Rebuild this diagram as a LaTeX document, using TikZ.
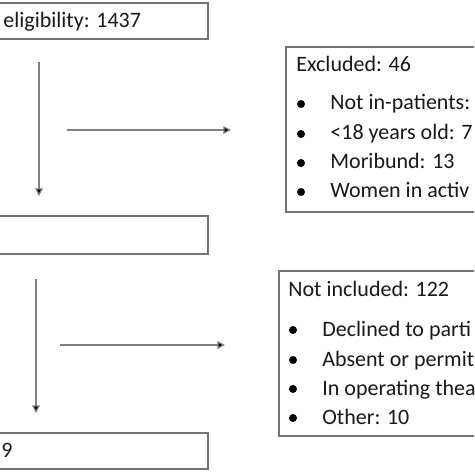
\documentclass[tikz,border=0pt]{standalone}
\usepackage{fontspec}
\setmainfont{Carlito}
\usetikzlibrary{arrows.meta}
\begin{document}
\begin{tikzpicture}[x=0.5pt,y=-0.5pt,
  boxline/.style={draw=black!55, line width=1pt},
  txt/.style={anchor=base west, inner sep=0pt, font=\fontsize{11}{13}\selectfont, text=black!90},
  dotb/.style={circle, fill=black, inner sep=0pt, minimum size=4pt},
  flow/.style={draw=black!50, line width=0.6pt, -{Triangle[length=3.8pt,width=3.8pt,fill=black]}}]
\useasboundingbox (0,0) rectangle (474,474);
\clip (0,0) rectangle (474,474);
\fill[white] (0,0) rectangle (474,474);
% left boxes
\draw[boxline] (-10,3) rectangle (208,39);
\node[txt] (t1) at (3,28) {eligibility: 1437};
\draw[boxline] (-10,216) rectangle (208,254);
\draw[boxline] (-10,433) rectangle (208,469);
\node[txt] (t3) at (1,457) {9};
% right boxes
\draw[boxline] (286,47) rectangle (490,212);
\node[txt] (ex) at (296,72) {Excluded: 46};
\foreach \y/\t [count=\i] in {110/{Not in-patients:},140/{<18 years old: 7},169/{Moribund: 13},198/{Women in activ}}{
  \node[dotb] (exb\i) at (301,\y-6) {};
  \node[txt] (ext\i) at (330,\y) {\t};
}
\draw[boxline] (279,271) rectangle (490,436);
\node[txt] (ni) at (288,297) {Not included: 122};
\foreach \y/\t [count=\i] in {336/{Declined to parti},366/{Absent or permit},395/{In operating thea},424/{Other: 10}}{
  \node[dotb] (nib\i) at (293,\y-6) {};
  \node[txt] (nit\i) at (322,\y) {\t};
}
% arrows
\coordinate (a1s) at (39,62); \coordinate (a1e) at (39,196);
\coordinate (h1s) at (67,130); \coordinate (h1e) at (231,130);
\coordinate (a2s) at (36,279); \coordinate (a2e) at (36,413);
\coordinate (h2s) at (60,345); \coordinate (h2e) at (225,345);
\draw[flow] (a1s) -- (a1e);
\draw[flow] (h1s) -- (h1e);
\draw[flow] (a2s) -- (a2e);
\draw[flow] (h2s) -- (h2e);
\end{tikzpicture}
\end{document}
